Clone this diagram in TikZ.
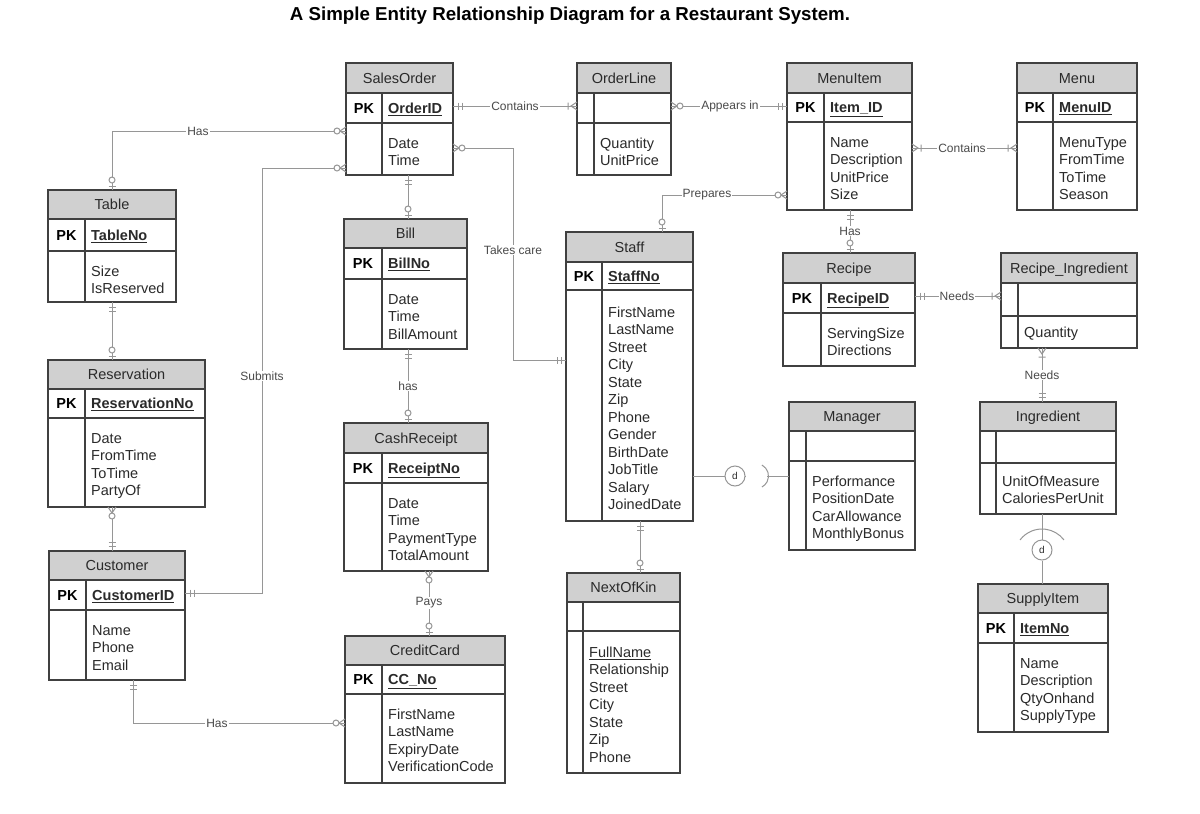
\documentclass[tikz,border=0pt]{standalone}
\usepackage{fontspec}
\setmainfont{Liberation Sans}
\usetikzlibrary{fit}
\definecolor{lncol}{HTML}{969696}
\definecolor{entc}{HTML}{404040}
\definecolor{hdrfill}{HTML}{D0D0D0}
\definecolor{txtc}{HTML}{2A2A2A}
\definecolor{lblc}{HTML}{4A4A4A}
\tikzset{
  lnk/.style={draw=lncol, line width=1pt},
  mk/.style={draw=lncol, line width=1pt},
  entline/.style={draw=entc, line width=1.3pt},
  entnode/.style={draw=entc, line width=1.3pt, inner sep=0pt, outer sep=0pt},
  ttl/.style={font=\fontsize{14.5}{17.5}\selectfont, text=txtc, inner sep=0pt, text height=13pt, text depth=2.6pt},
  pkst/.style={font=\bfseries\fontsize{14.5}{17.5}\selectfont, text=black, inner sep=0pt, text height=13pt, text depth=2.6pt},
  keyst/.style={font=\bfseries\fontsize{14.5}{17.5}\selectfont, text=txtc, inner sep=0pt, text height=13pt, text depth=2.6pt, anchor=west},
  attr/.style={font=\fontsize{14.5}{17.5}\selectfont, text=txtc, align=left, anchor=north west, inner sep=0pt},
  lbl/.style={font=\fontsize{12}{14}\selectfont, text=lblc, fill=white, inner sep=1pt},
  dcirc/.style={circle, draw=lncol, line width=1pt, fill=white, minimum size=20pt, inner sep=0pt, font=\fontsize{10}{12}\selectfont, text=txtc},
  pics/one/.style={code={\draw[mk] (5,-3.5)--(5,3.5) (9,-3.5)--(9,3.5);}},
  pics/zeroone/.style={code={\draw[mk] (4,-3.5)--(4,3.5); \draw[mk,fill=white] (10,0) circle[radius=3];}},
  pics/zeromany/.style={code={\draw[mk] (0,-4)--(6,0)--(0,4); \draw[mk,fill=white] (9,0) circle[radius=3];}},
  pics/onemany/.style={code={\draw[mk] (0,-4)--(6,0)--(0,4) (9,-3.5)--(9,3.5);}},
}
% name, left, top, right, bottom, header bottom, pk bottom, divider, title
\newcommand\erbox[9]{%
  \fill[hdrfill] (#2,#3) rectangle (#4,#6);
  \node[entnode, fit={(#2,#3) (#4,#5)}] (#1) {};
  \draw[entline] (#2,#6) -- (#4,#6) (#2,#7) -- (#4,#7) (#8,#6) -- (#8,#5);
  \node[ttl] (#1-title) at ({(#2+#4)/2},{(#3+#6)/2}) {#9};
  \coordinate (#1-pk) at ({(#2+#8)/2},{(#6+#7)/2});
  \coordinate (#1-key) at ({#8+6},{(#6+#7)/2});
  \coordinate (#1-at) at ({#8+6},{#7+13});
}
\newcommand\erpk[2]{%
  \node[pkst] (#1-pklbl) at (#1-pk) {PK};
  \node[keyst] (#1-pkf) at (#1-key) {\underline{#2}};
}
\newcommand\erattr[3][0]{%
  \node[attr] (#2-attrs) at ([yshift={-(#1)*1pt}]#2-at) {\rule{0pt}{12pt}#3};
}
\begin{document}
\begin{tikzpicture}[x=1pt, y=-1pt]
\fill[white] (0,0) rectangle (1200,814);
\useasboundingbox (0,0) rectangle (1200,814);

\node[font=\bfseries\fontsize{18.7}{22}\selectfont, text=black, inner sep=0pt] (title) at (570,16) {A Simple Entity Relationship Diagram for a Restaurant System.};

% ---------- entities ----------
\erbox{tbl}{48}{190}{176}{302}{219}{251}{85}{Table}
\erpk{tbl}{TableNo}
\erattr{tbl}{Size\\IsReserved}

\erbox{res}{48}{360}{205}{507}{389}{418}{85}{Reservation}
\erpk{res}{ReservationNo}
\erattr{res}{Date\\FromTime\\ToTime\\PartyOf}

\erbox{cust}{49}{551}{185}{680}{580}{610}{86}{Customer}
\erpk{cust}{CustomerID}
\erattr{cust}{Name\\Phone\\Email}

\erbox{so}{346}{63}{453}{175}{93}{123}{382}{SalesOrder}
\erpk{so}{OrderID}
\erattr{so}{Date\\Time}

\erbox{ol}{577}{63}{671}{175}{93}{123}{594}{OrderLine}
\erattr{ol}{Quantity\\UnitPrice}

\erbox{mi}{787}{63}{912}{210}{93}{122}{824}{MenuItem}
\erpk{mi}{Item\_ID}
\erattr{mi}{Name\\Description\\UnitPrice\\Size}

\erbox{menu}{1017}{63}{1137}{210}{93}{122}{1053}{Menu}
\erpk{menu}{MenuID}
\erattr{menu}{MenuType\\FromTime\\ToTime\\Season}

\erbox{bill}{344}{219}{467}{349}{248}{279}{382}{Bill}
\erpk{bill}{BillNo}
\erattr{bill}{Date\\Time\\BillAmount}

\erbox{staff}{566}{232}{693}{521}{262}{290}{602}{Staff}
\erpk{staff}{StaffNo}
\erattr[2]{staff}{FirstName\\LastName\\Street\\City\\State\\Zip\\Phone\\Gender\\BirthDate\\JobTitle\\Salary\\JoinedDate}

\erbox{cr}{344}{423}{488}{571}{453}{483}{382}{CashReceipt}
\erpk{cr}{ReceiptNo}
\erattr{cr}{Date\\Time\\PaymentType\\TotalAmount}

\erbox{cc}{345}{636}{505}{783}{665}{694}{382}{CreditCard}
\erpk{cc}{CC\_No}
\erattr{cc}{FirstName\\LastName\\ExpiryDate\\VerificationCode}

\erbox{nok}{567}{573}{680}{773}{602}{631}{583}{NextOfKin}
\erattr[1]{nok}{\underline{FullName}\\Relationship\\Street\\City\\State\\Zip\\Phone}

\erbox{rec}{783}{253}{915}{366}{283}{313}{821}{Recipe}
\erpk{rec}{RecipeID}
\erattr{rec}{ServingSize\\Directions}

\erbox{ri}{1001}{253}{1137}{348}{283}{316}{1018}{Recipe\_Ingredient}
\erattr[-4]{ri}{Quantity}

\erbox{mgr}{789}{402}{915}{550}{431}{461}{806}{Manager}
\erattr{mgr}{Performance\\PositionDate\\CarAllowance\\MonthlyBonus}

\erbox{ing}{980}{402}{1116}{514}{431}{463}{996}{Ingredient}
\erattr[-2]{ing}{UnitOfMeasure\\CaloriesPerUnit}

\erbox{sup}{978}{584}{1108}{732}{613}{643}{1014}{SupplyItem}
\erpk{sup}{ItemNo}
\erattr{sup}{Name\\Description\\QtyOnhand\\SupplyType}

% ---------- connectors ----------
% Table - SalesOrder
\draw[lnk] (tbl.north) |- (so.west |- 0,131);
\node[lbl] (l-has1) at (198,131) {Has};
\pic[rotate=90] at (tbl.north) {zeroone};
\pic[rotate=180] at (so.west |- 0,131) {zeromany};

% Customer - SalesOrder
\draw[lnk] (cust.east |- 0,593) -- (262,593) -- (262,168) -- (so.west |- 0,168);
\node[lbl] (l-sub) at (262,376) {Submits};
\pic at (cust.east |- 0,593) {one};
\pic[rotate=180] at (so.west |- 0,168) {zeromany};

% SalesOrder - OrderLine
\draw[lnk] (so.east |- 0,106) -- (ol.west |- 0,106);
\node[lbl] (l-con1) at (515,106) {Contains};
\pic at (so.east |- 0,106) {one};
\pic[rotate=180] at (ol.west |- 0,106) {onemany};

% OrderLine - MenuItem
\draw[lnk] (ol.east |- 0,106) -- (mi.west |- 0,106);
\node[lbl] (l-app) at (730,106) {Appears in};
\pic at (ol.east |- 0,106) {zeromany};
\pic[rotate=180] at (mi.west |- 0,106) {one};

% SalesOrder - Staff
\draw[lnk] (so.east |- 0,148) -- (513,148) -- (513,360) -- (staff.west |- 0,360);
\node[lbl] (l-tc) at (513,250) {Takes care};
\pic at (so.east |- 0,148) {zeromany};
\pic[rotate=180] at (staff.west |- 0,360) {one};

% SalesOrder - Bill
\draw[lnk] (so.south -| 408,0) -- (bill.north -| 408,0);
\pic[rotate=-90] at (so.south -| 408,0) {one};
\pic[rotate=90] at (bill.north -| 408,0) {zeroone};

% Staff - MenuItem
\draw[lnk] (staff.north -| 662,0) |- (mi.west |- 0,195);
\node[lbl] (l-prep) at (707,195) {Prepares};
\pic[rotate=90] at (staff.north -| 662,0) {zeroone};
\pic[rotate=180] at (mi.west |- 0,195) {zeromany};

% MenuItem - Menu
\draw[lnk] (mi.east |- 0,148) -- (menu.west |- 0,148);
\node[lbl] (l-con2) at (962,148) {Contains};
\pic at (mi.east |- 0,148) {onemany};
\pic[rotate=180] at (menu.west |- 0,148) {onemany};

% MenuItem - Recipe
\draw[lnk] (mi.south -| 850,0) -- (rec.north -| 850,0);
\node[lbl] (l-has2) at (850,231) {Has};
\pic[rotate=-90] at (mi.south -| 850,0) {one};
\pic[rotate=90] at (rec.north -| 850,0) {zeroone};

% Recipe - Recipe_Ingredient
\draw[lnk] (rec.east |- 0,296) -- (ri.west |- 0,296);
\node[lbl] (l-need1) at (957,296) {Needs};
\pic at (rec.east |- 0,296) {one};
\pic[rotate=180] at (ri.west |- 0,296) {onemany};

% Recipe_Ingredient - Ingredient
\draw[lnk] (ri.south -| 1042,0) -- (ing.north -| 1042,0);
\node[lbl] (l-need2) at (1042,375) {Needs};
\pic[rotate=-90] at (ri.south -| 1042,0) {onemany};
\pic[rotate=90] at (ing.north -| 1042,0) {one};

% Staff - Manager (subtype)
\draw[lnk] (staff.east |- 0,476) -- (mgr.west |- 0,476);
\fill[white] (746,473.5) rectangle (766.5,478.5);
\node[dcirc] (dmgr) at (735,476) {d};
\draw[lnk] ([shift={(-62:12.5)}]756,476) arc[start angle=-62, end angle=62, radius=12.5];

% Ingredient - SupplyItem (subtype)
\node[dcirc] (dsup) at (1042,550) {d};
\draw[lnk] (ing.south -| dsup) -- (dsup);
\draw[lnk] (dsup) -- (sup.north -| dsup);
\draw[lnk] ([shift={(-143:27.5)}]1042,556.5) arc[start angle=-143, end angle=-37, radius=27.5];

% Bill - CashReceipt
\draw[lnk] (bill.south -| 408,0) -- (cr.north -| 408,0);
\node[lbl] (l-has3) at (408,386) {has};
\pic[rotate=-90] at (bill.south -| 408,0) {one};
\pic[rotate=90] at (cr.north -| 408,0) {zeroone};

% CashReceipt - CreditCard
\draw[lnk] (cr.south -| 429,0) -- (cc.north -| 429,0);
\node[lbl] (l-pays) at (429,603) {Pays};
\pic[rotate=-90] at (cr.south -| 429,0) {zeromany};
\pic[rotate=90] at (cc.north -| 429,0) {zeroone};

% Customer - CreditCard
\draw[lnk] (cust.south -| 133,0) |- (cc.west |- 0,723);
\node[lbl] (l-has4) at (217,723) {Has};
\pic[rotate=-90] at (cust.south -| 133,0) {one};
\pic[rotate=180] at (cc.west |- 0,723) {zeromany};

% Table - Reservation
\draw[lnk] (tbl.south -| 112,0) -- (res.north -| 112,0);
\pic[rotate=-90] at (tbl.south -| 112,0) {one};
\pic[rotate=90] at (res.north -| 112,0) {zeroone};

% Reservation - Customer
\draw[lnk] (res.south -| 112,0) -- (cust.north -| 112,0);
\pic[rotate=-90] at (res.south -| 112,0) {zeromany};
\pic[rotate=90] at (cust.north -| 112,0) {one};

% Staff - NextOfKin
\draw[lnk] (staff.south -| 640,0) -- (nok.north -| 640,0);
\pic[rotate=-90] at (staff.south -| 640,0) {one};
\pic[rotate=90] at (nok.north -| 640,0) {zeroone};
\end{tikzpicture}
\end{document}
